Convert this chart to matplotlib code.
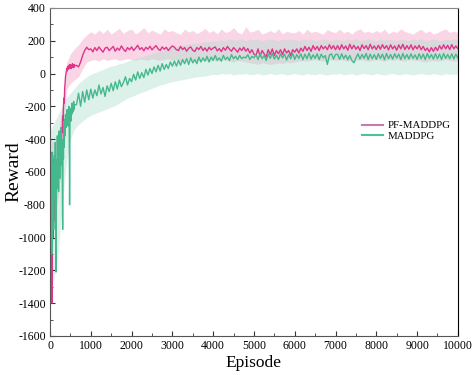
import matplotlib
matplotlib.use("Agg")
import matplotlib.pyplot as plt
from matplotlib import font_manager
from matplotlib.lines import Line2D
from matplotlib.ticker import MultipleLocator
import numpy as np

# Times-like serif; fall back to the STIX font shipped with matplotlib
installed = {f.name for f in font_manager.fontManager.ttflist}
serif = [f for f in ['Liberation Serif', 'Times New Roman', 'Nimbus Roman',
                     'STIXGeneral'] if f in installed]
plt.rcParams['font.family'] = serif + ['DejaVu Serif']
plt.rcParams['axes.unicode_minus'] = False

# episode grid of the mean curves: dense at start, then every 50
episodes = np.r_[np.arange(0, 601, 10), np.arange(650, 10001, 50)]

pf_maddpg = [
    -450, -900, -480, -1100, -600, -1400, -700, -520, -1000, -560,
    -640, -580, -900, -620, -540, -700, -560, -600, -520, -620,
    -540, -500, -580, -470, -520, -450, -480, -400, -430, -330,
    -360, -260, -290, -200, -150, -180, -90, -60, -20, 0,
    10, 30, 15, 40, 25, 45, 30, 50, 35, 55,
    40, 30, 50, 35, 45, 60, 40, 50, 35, 55,
    45,
    # 650 - 950
    50, 40, 70, 110, 140, 160, 145,
    # 1000 - 3000
    150, 132, 158, 140, 162, 145, 130, 155, 160, 140,
    152, 165, 136, 155, 142, 168, 148, 134, 158, 145,
    162, 140, 155, 172, 146, 158, 138, 160, 148, 166,
    144, 158, 170, 150, 140, 162, 148, 160, 140, 156,
    168,
    # 3050 - 5000
    160, 145, 140, 165, 146, 158, 136, 154, 162, 142,
    134, 158, 146, 165, 140, 156, 136, 160, 144, 155,
    162, 138, 152, 134, 158, 142, 165, 148, 136, 158,
    145, 130, 155, 140, 160, 136, 152, 125, 145, 118,
    # 5050 - 7000
    110, 150, 105, 140, 120, 100, 145, 115, 150, 110,
    140, 120, 145, 115, 150, 125, 140, 110, 145, 130,
    150, 125, 155, 135, 165, 140, 160, 135, 170, 145,
    165, 140, 170, 150, 165, 145, 175, 150, 170, 145,
    # 7050 - 10000
    170, 145, 175, 150, 168, 142, 178, 150, 172, 148,
    165, 140, 175, 152, 170, 145, 178, 150, 168, 146,
    172, 148, 176, 152, 170, 144, 175, 150, 168, 142,
    174, 150, 178, 146, 170, 148, 175, 145, 168, 150,
    172, 145, 165, 140, 155, 132, 158, 135, 160, 140,
    170, 148, 175, 150, 172, 146, 176, 150, 168, 152,
]

maddpg = [
    -700, -1050, -500, -900, -650, -1100, -480, -800, -560, -950,
    -620, -500, -750, -420, -880, -1210, -540, -700, -380, -600,
    -460, -720, -350, -520, -640, -420, -560, -330, -480, -400,
    -600, -950, -430, -520, -300, -450, -280, -380, -250, -330,
    -260, -320, -220, -300, -240, -320, -200, -280, -800, -260,
    -220, -290, -210, -250, -180, -240, -200, -230, -170, -220,
    -190,
    # 650 - 950
    -190, -120, -200, -110, -175, -100, -160,
    # 1000 - 3000
    -95, -150, -100, -135, -70, -125, -85, -140, -75, -110,
    -60, -105, -50, -95, -40, -80, -55, -20, -70, -30,
    -50, -5, -40, 10, -30, 5, -25, 25, -10, 30,
    0, 40, 10, 50, 15, 60, 25, 55, 30, 70,
    45,
    # 3050 - 5000
    75, 45, 80, 50, 85, 60, 90, 55, 95, 65,
    85, 60, 100, 70, 95, 75, 105, 70, 100, 80,
    110, 80, 95, 75, 110, 85, 100, 80, 115, 90,
    105, 85, 110, 90, 100, 95, 115, 85, 105, 95,
    # 5050 - 7000
    115, 85, 120, 90, 110, 80, 118, 92, 122, 88,
    112, 85, 120, 95, 118, 82, 115, 90, 122, 86,
    116, 92, 120, 84, 118, 90, 125, 88, 114, 92,
    120, 85, 118, 95, 110, 55, 112, 120, 88, 116,
    # 7050 - 10000
    118, 86, 120, 90, 112, 84, 110, 80, 65, 95,
    120, 88, 116, 92, 122, 85, 118, 90, 115, 86,
    120, 92, 118, 84, 122, 90, 116, 88, 120, 94,
    118, 85, 122, 90, 116, 88, 120, 92, 114, 86,
    120, 90, 118, 85, 122, 92, 116, 88, 120, 90,
    118, 86, 122, 92, 116, 90, 120, 88, 118, 94,
]

# shaded bands, every 100 episodes
band_episodes = np.arange(0, 10001, 100)

pf_upper = [
    -400, -420, -380, -200, 60, 120, 150, 175, 210, 235,
    255, 240, 265, 245, 270, 240, 258, 275, 245, 262,
    270, 242, 258, 280, 248, 265, 252, 240, 272, 255,
    262, 248, 240, 270, 252, 262, 244, 256, 275, 250,
    262, 242, 272, 250, 258, 280, 250, 242, 285, 252,
    258, 270, 240, 250, 262, 248, 272, 242, 258, 250,
    248, 262, 240, 270, 250, 258, 248, 240, 268, 255,
    250, 270, 248, 258, 240, 262, 272, 250, 258, 248,
    262, 250, 270, 242, 258, 250, 272, 256, 248, 240,
    258, 270, 248, 260, 240, 250, 262, 272, 250, 258,
    250,
]
pf_lower = [
    -1400, -900, -750, -550, -100, -60, -40, -20, 30, 70,
    80, 85, 75, 90, 80, 85, 90, 80, 85, 90,
    85, 80, 90, 85, 80, 90, 85, 80, 85, 90,
    80, 85, 75, 80, 85, 80, 75, 85, 80, 75,
    80, 75, 85, 80, 75, 70, 80, 75, 70, 65,
    60, 55, 65, 60, 55, 60, 65, 60, 70, 65,
    70, 75, 80, 75, 80, 85, 80, 75, 80, 85,
    80, 85, 80, 75, 85, 80, 85, 80, 75, 80,
    85, 80, 75, 85, 80, 85, 80, 75, 85, 80,
    80, 75, 70, 75, 80, 75, 80, 85, 80, 75,
    80,
]
ma_upper = [
    -350, -300, -250, -200, -150, -120, -90, -60, -40, -20,
    -5, 5, 15, 25, 35, 45, 50, 60, 65, 75,
    85, 90, 100, 105, 115, 120, 130, 135, 145, 150,
    160, 165, 170, 175, 180, 185, 185, 190, 195, 195,
    200, 200, 205, 200, 210, 205, 205, 210, 200, 210,
    205, 210, 200, 205, 210, 205, 200, 210, 205, 210,
    205, 200, 210, 205, 210, 200, 205, 210, 205, 200,
    210, 205, 200, 210, 205, 210, 200, 205, 210, 205,
    200, 210, 205, 210, 205, 200, 210, 205, 200, 210,
    205, 210, 200, 205, 210, 205, 200, 210, 205, 210,
    205,
]
ma_lower = [
    -1300, -1250, -1100, -800, -550, -400, -340, -310, -290, -270,
    -255, -245, -235, -225, -215, -205, -195, -180, -165, -150,
    -140, -130, -120, -110, -100, -90, -80, -70, -65, -55,
    -50, -45, -40, -35, -30, -25, -20, -18, -15, -10,
    -5, -8, 0, -5, 0, -10, -2, -5, 0, -8,
    -5, 0, -10, -5, 0, -8, -3, 0, -10, -5,
    0, -5, -10, 0, -5, -8, 0, -5, -10, -3,
    -5, 0, -8, -5, 0, -10, -3, 0, -5, -8,
    0, -5, -10, -3, 0, -5, -8, 0, -5, -10,
    -3, 0, -5, -8, 0, -5, -10, 0, -5, -3,
    -5,
]

fig = plt.figure(figsize=(4.74, 3.75), dpi=100)
ax = fig.add_axes([0.1055, 0.104, 0.8605, 0.875])

ax.fill_between(band_episodes, pf_lower, pf_upper, color='#f6bfd7', alpha=0.65, lw=0)
ax.plot(episodes, pf_maddpg, color='#e0348a', lw=1.0)
ax.fill_between(band_episodes, ma_lower, ma_upper, color='#b3e0cf', alpha=0.45, lw=0)
ax.plot(episodes, maddpg, color='#45b98e', lw=1.0)

ax.set_xlim(0, 10000)
ax.set_ylim(-1600, 400)
ax.xaxis.set_major_locator(MultipleLocator(1000))
ax.xaxis.set_minor_locator(MultipleLocator(500))
ax.yaxis.set_major_locator(MultipleLocator(200))
ax.yaxis.set_minor_locator(MultipleLocator(100))
ax.tick_params(which='both', direction='in', labelsize=8.5, pad=3, colors='#333333')
ax.tick_params(which='major', length=3.5)
ax.tick_params(which='minor', length=2)
ax.tick_params(labelcolor='black')

for side in ['left', 'bottom']:
    ax.spines[side].set_color('#555555')
ax.spines['top'].set_color('#888888')
ax.spines['right'].set_color('black')

ax.set_xlabel('Episode', fontsize=12.5, labelpad=2)
ax.set_ylabel('Reward', fontsize=14)
ax.yaxis.set_label_coords(-0.068, 0.5)

handles = [Line2D([], [], color='#c87aaa', lw=1.5),
           Line2D([], [], color='#4fc09a', lw=1.5)]
ax.legend(handles, ['PF-MADDPG', 'MADDPG'], loc='center right',
          bbox_to_anchor=(1.0, 0.625), frameon=False, fontsize=7.8,
          handlelength=1.9, handletextpad=0.4, labelspacing=0.1,
          borderaxespad=0.3)

fig.savefig('out.png', dpi=100)
